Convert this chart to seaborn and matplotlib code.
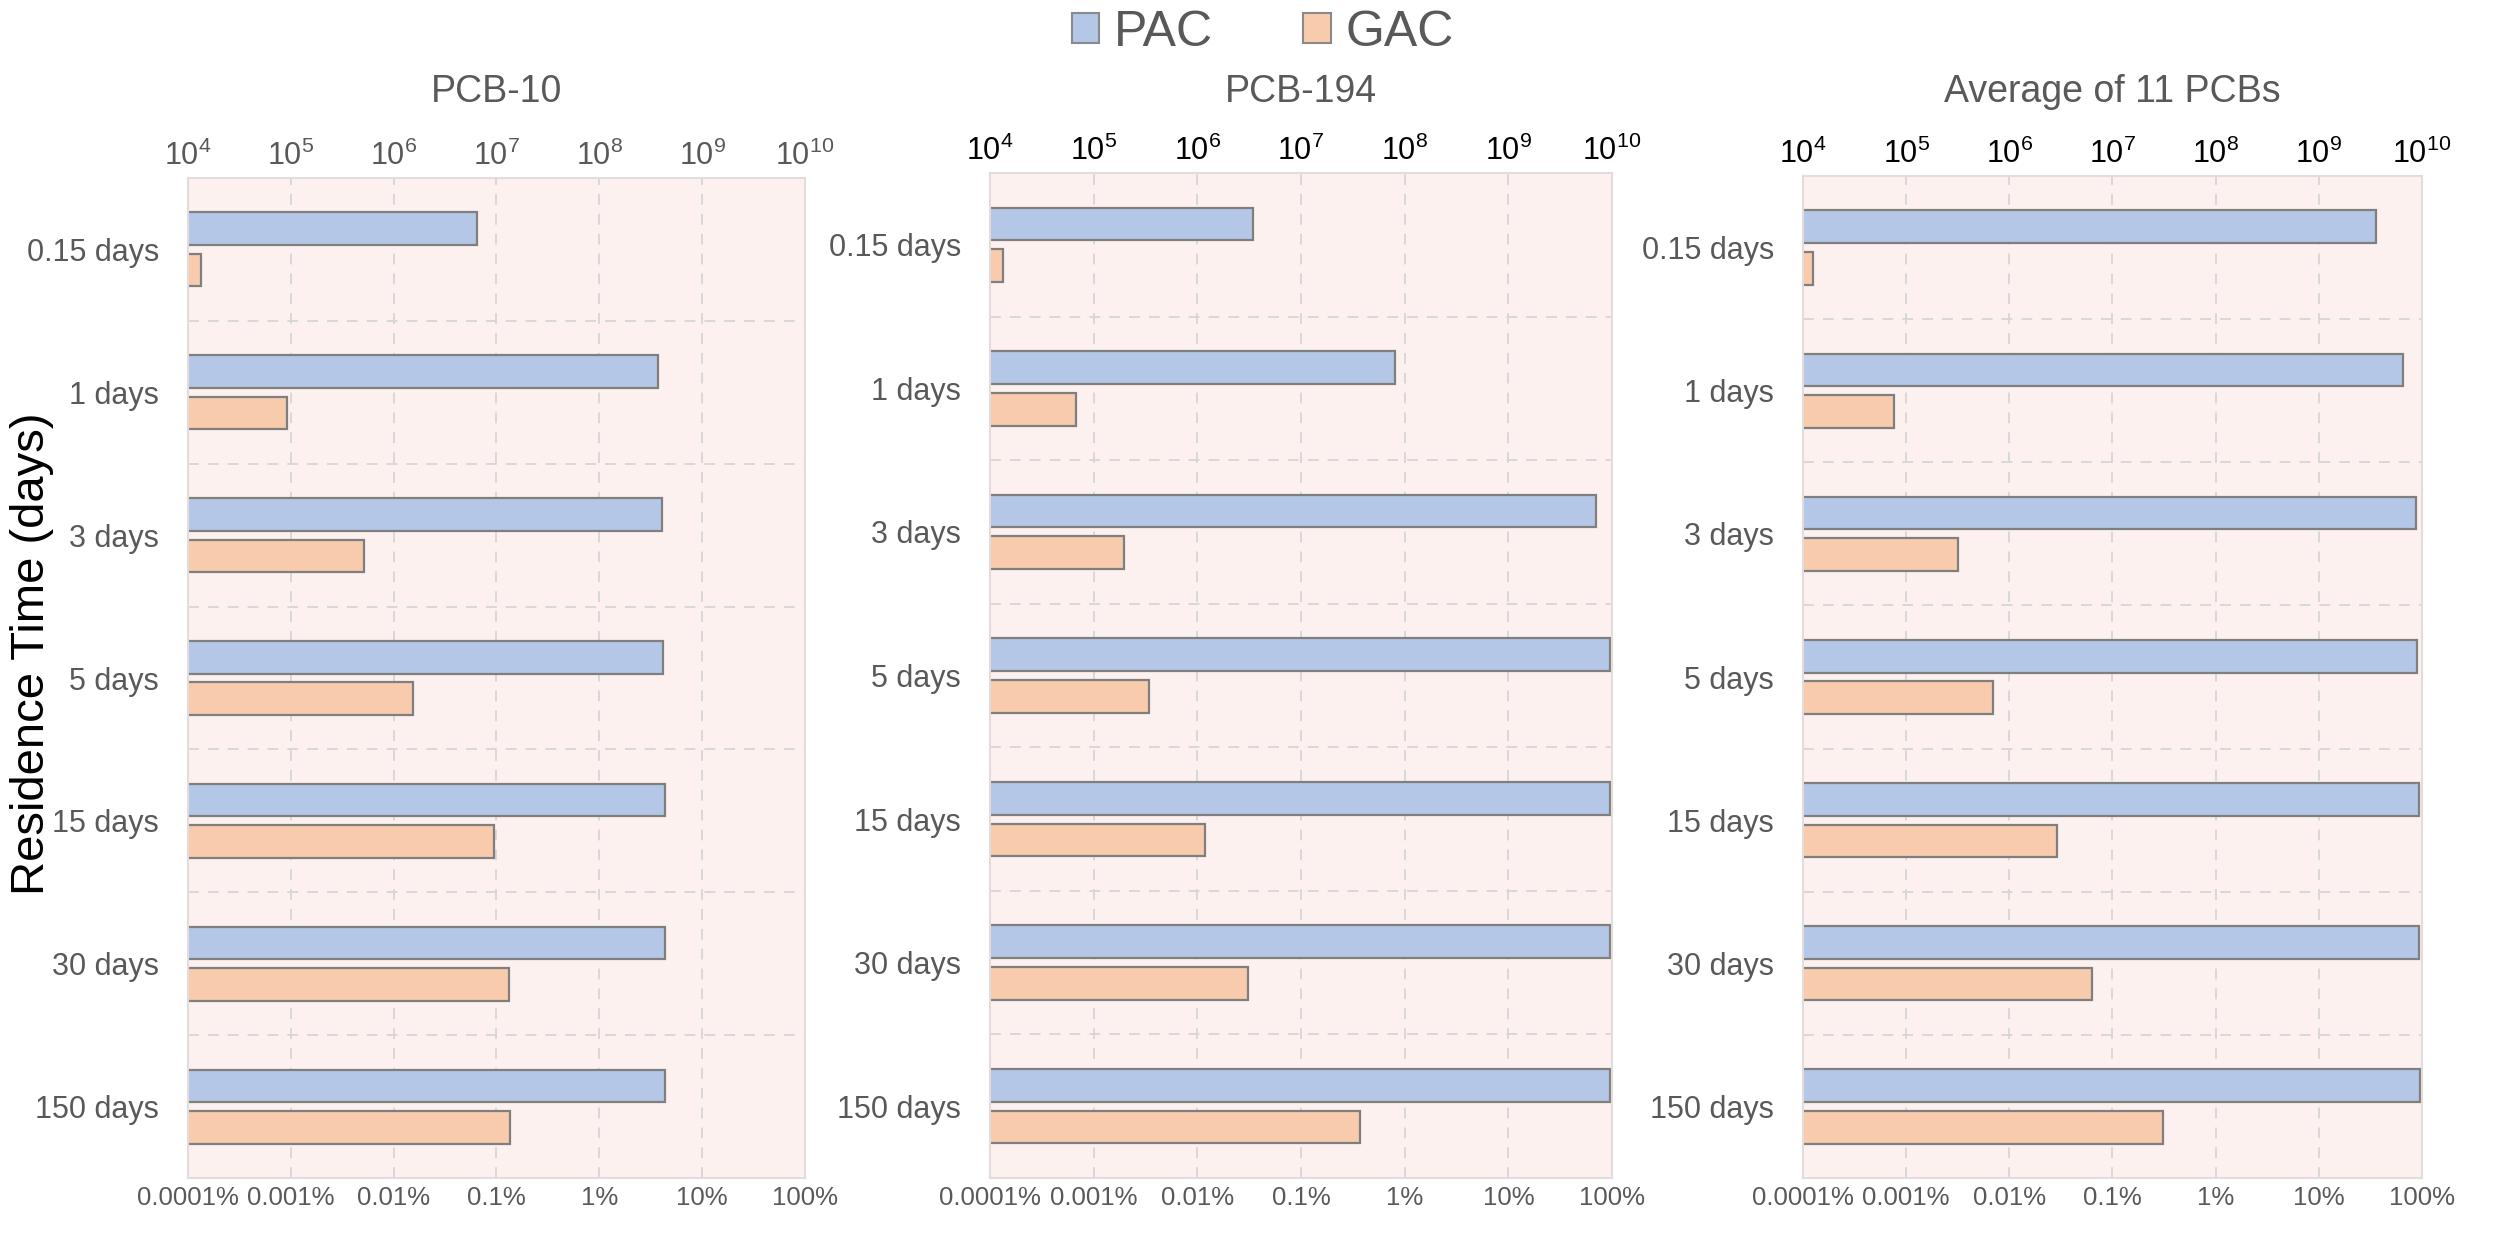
import numpy as np
import pandas as pd
import matplotlib.pyplot as plt
import seaborn as sns
from matplotlib.patches import Patch
from matplotlib.ticker import NullLocator

# residence times and sorbents
times = ['0.15 days', '1 days', '3 days', '5 days', '15 days', '30 days', '150 days']
sorbents = ['PAC', 'GAC']
panel_titles = ['PCB-10', 'PCB-194', 'Average of 11 PCBs']

# values in %
pcb10_pac = [0.064, 3.75, 4.03, 4.17, 4.33, 4.33, 4.35]
pcb10_gac = [0.000133, 0.00091, 0.0051, 0.0153, 0.095, 0.131, 0.135]
pcb194_pac = [0.0345, 0.81, 70, 96, 96, 96, 96]
pcb194_gac = [0.000133, 0.00068, 0.00196, 0.00345, 0.0119, 0.031, 0.37]
avg_pac = [35.6, 65, 86.7, 89.8, 93, 93, 96]
avg_gac = [0.000124, 0.00076, 0.00316, 0.0069, 0.0288, 0.063, 0.31]

pct_ticks = [1e-4, 1e-3, 1e-2, 1e-1, 1, 10, 100]
pct_labels = ['0.0001%', '0.001%', '0.01%', '0.1%', '1%', '10%', '100%']
top_ticks = [1e4, 1e5, 1e6, 1e7, 1e8, 1e9, 1e10]

colors = {'PAC': '#B4C7E7', 'GAC': '#F8CBAD'}
bg = '#FDF1EF'
txt = '#595959'

sns.set_theme(style='white')
plt.rcParams['font.family'] = ['Liberation Sans', 'DejaVu Sans']

W, H = 2500, 1238
fig = plt.figure(figsize=(25, 12.38), dpi=100)

# axes boxes in pixels: left, right, top, bottom
boxes = [(188, 805, 178, 1178), (990, 1612, 173, 1178), (1803, 2422, 176, 1178)]
series = [(pcb10_pac, pcb10_gac), (pcb194_pac, pcb194_gac), (avg_pac, avg_gac)]
top_colors = [txt, 'black', 'black']

for i, (box, (pac, gac)) in enumerate(zip(boxes, series)):
    l, r, t, b = box
    ax = fig.add_axes([l / W, 1 - b / H, (r - l) / W, (b - t) / H])
    df = pd.DataFrame({
        'time': times * 2,
        'value': list(pac) + list(gac),
        'sorbent': ['PAC'] * len(times) + ['GAC'] * len(times),
    })
    ax.set_xscale('log')
    sns.barplot(data=df, y='time', x='value', hue='sorbent', order=times,
                hue_order=sorbents, palette=colors, orient='h', width=0.58,
                edgecolor='#7f7f7f', linewidth=1.6, legend=False, ax=ax,
                saturation=1)
    # thinner bars with a small gap between PAC and GAC
    for cont in ax.containers:
        for p in cont.patches:
            yc = p.get_y() + p.get_height() / 2
            p.set_height(0.228)
            p.set_y(yc - 0.114)

    ax.set_facecolor(bg)
    ax.set_xlim(1e-4, 100)
    ax.set_ylim(6.5, -0.5)
    ax.set_xticks(pct_ticks)
    ax.set_xticklabels(pct_labels, fontsize=18.5, color=txt)
    ax.xaxis.set_minor_locator(NullLocator())
    ax.set_yticks(range(len(times)))
    ax.set_yticklabels(times, fontsize=22, color=txt)
    ax.set_yticks(np.arange(-0.5, len(times), 1), minor=True)
    ax.tick_params(axis='both', which='both', length=0)
    ax.tick_params(axis='y', pad=21)
    ax.tick_params(axis='x', pad=6)
    ax.set_xlabel('')
    ax.set_ylabel('')
    ax.grid(False)
    ax.grid(True, which='major', axis='x', color='#d6d6d6', linestyle=(0, (6, 5)), linewidth=1.3)
    ax.grid(True, which='minor', axis='y', color='#d6d6d6', linestyle=(0, (6, 5)), linewidth=1.3)
    ax.set_axisbelow(True)
    for s in ax.spines.values():
        s.set_color('#e2dcdc')
        s.set_linewidth(1.5)

    sec = ax.secondary_xaxis('top', functions=(lambda x: x * 1e8, lambda x: x / 1e8))
    sec.set_xscale('log')
    sec.set_xticks(top_ticks)
    sec.xaxis.set_minor_locator(NullLocator())
    sec.tick_params(axis='x', length=0, pad=4, labelsize=22, labelcolor=top_colors[i])
    for s in sec.spines.values():
        s.set_visible(False)

    fig.text((l + r) / 2 / W, 1 - 92 / H, panel_titles[i], ha='center', va='center',
             fontsize=27, color=txt)

handles = [Patch(facecolor=colors[s], edgecolor='#8a8a8a', linewidth=1.5) for s in sorbents]
leg = fig.legend(handles, sorbents, loc='center', bbox_to_anchor=(1263 / W, 1 - 33 / H),
                 ncol=2, frameon=False, fontsize=36, handlelength=0.55, handleheight=0.55,
                 handletextpad=0.3, columnspacing=1.8, borderpad=0)
for tx in leg.get_texts():
    tx.set_color(txt)

fig.text(32 / W, 1 - 654 / H, 'Residence Time (days)', rotation=90, ha='center',
         va='center', fontsize=34, color='black')

fig.savefig('out.png', dpi=100, facecolor='white')
